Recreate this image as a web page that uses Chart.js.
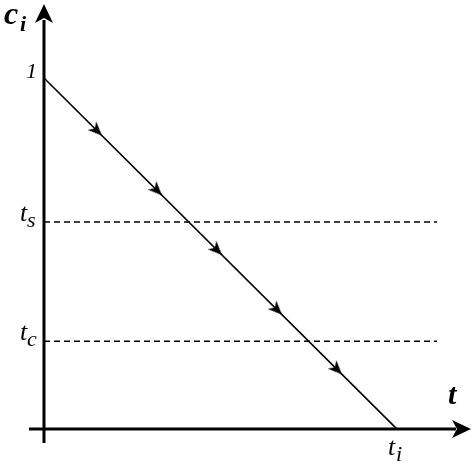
<!DOCTYPE html>
<html>
<head>
<meta charset="utf-8">
<script src="https://cdn.jsdelivr.net/npm/chart.js@4/dist/chart.umd.min.js"></script>
<style>
  html, body { margin: 0; padding: 0; background: #fff; }
  canvas { display: block; }
</style>
</head>
<body>
<canvas id="myChart" width="474" height="467"></canvas>
<script>
// trajectory of c_i over t
const tValues = [0, 1];
const ciValues = [1, 0];
// direction arrows along the line (t positions)
const arrowT = [0.15, 0.32, 0.49, 0.66, 0.83];
// horizontal thresholds
const levelValues = [0.59, 0.25];
const levelBase = ['t', 't'];
const levelSub = ['s', 'c'];
const levelEnd = 1.113;
// axis labels
const yTickValue = 1;
const yTickLabel = '1';
const xTickValue = 1;
const xTickBase = 't';
const xTickSub = 'i';

function makeArrowHead() {
  // stealth arrow pointing right, tip at the right edge
  const c = document.createElement('canvas');
  c.width = 14; c.height = 12;
  const g = c.getContext('2d');
  g.fillStyle = '#000';
  g.beginPath();
  g.moveTo(14, 6);
  g.lineTo(0, 0);
  g.lineTo(4, 6);
  g.lineTo(0, 12);
  g.closePath();
  g.fill();
  return c;
}

function lineAt(t) {
  return ciValues[0] + (ciValues[1] - ciValues[0]) * (t - tValues[0]) / (tValues[1] - tValues[0]);
}

const axesPlugin = {
  id: 'axesPlugin',
  afterDatasetsDraw(chart) {
    const ctx = chart.ctx;
    const xs = chart.scales.x, ys = chart.scales.y;
    const x0 = xs.getPixelForValue(0), y0 = ys.getPixelForValue(0);
    ctx.save();
    ctx.strokeStyle = '#000';
    ctx.fillStyle = '#000';
    ctx.lineWidth = 3;
    // y axis
    ctx.beginPath();
    ctx.moveTo(x0, y0 + 14);
    ctx.lineTo(x0, 20);
    ctx.stroke();
    ctx.beginPath();
    ctx.moveTo(x0, 4);
    ctx.lineTo(x0 - 9, 23);
    ctx.lineTo(x0, 18);
    ctx.lineTo(x0 + 9, 23);
    ctx.closePath();
    ctx.fill();
    // x axis
    ctx.beginPath();
    ctx.moveTo(x0 - 15, y0);
    ctx.lineTo(456, y0);
    ctx.stroke();
    ctx.beginPath();
    ctx.moveTo(471, y0);
    ctx.lineTo(452, y0 - 9);
    ctx.lineTo(457, y0);
    ctx.lineTo(452, y0 + 9);
    ctx.closePath();
    ctx.fill();

    // texts
    ctx.textBaseline = 'alphabetic';
    ctx.textAlign = 'left';
    ctx.font = 'bold italic 32px "Liberation Serif"';
    ctx.fillText('c', 4, 24);
    ctx.font = 'bold italic 22px "Liberation Serif"';
    ctx.fillText('i', 20, 31);
    ctx.font = 'bold italic 30px "Liberation Serif"';
    ctx.fillText('t', 448, 404);

    ctx.font = 'italic 22px "Liberation Serif"';
    ctx.fillText(yTickLabel, 26, ys.getPixelForValue(yTickValue) + 0);
    levelValues.forEach((v, i) => {
      const py = ys.getPixelForValue(v);
      ctx.font = 'italic 26px "Liberation Serif"';
      ctx.fillText(levelBase[i], 20, py - 1);
      ctx.font = 'italic 22px "Liberation Serif"';
      ctx.fillText(levelSub[i], 27, py + 5);
    });
    const px = xs.getPixelForValue(xTickValue);
    ctx.font = 'italic 26px "Liberation Serif"';
    ctx.fillText(xTickBase, px - 9, y0 + 26);
    ctx.font = 'italic 22px "Liberation Serif"';
    ctx.fillText(xTickSub, px - 1, y0 + 32);
    ctx.restore();
  }
};

const datasets = [
  {
    data: tValues.map((t, i) => ({x: t, y: ciValues[i]})),
    showLine: true,
    borderColor: '#000',
    borderWidth: 1.6,
    pointRadius: 0
  },
  {
    data: arrowT.map(t => ({x: t, y: lineAt(t)})),
    showLine: false,
    pointStyle: makeArrowHead(),
    rotation: 45,
    pointRadius: 7
  }
];
levelValues.forEach(v => {
  datasets.push({
    data: [{x: 0, y: v}, {x: levelEnd, y: v}],
    showLine: true,
    borderColor: '#000',
    borderWidth: 1.5,
    borderDash: [6, 4],
    pointRadius: 0
  });
});

new Chart(document.getElementById('myChart'), {
  type: 'scatter',
  data: { datasets: datasets },
  options: {
    responsive: false,
    animation: false,
    layout: { padding: 0, autoPadding: false },
    plugins: { legend: { display: false }, tooltip: { enabled: false } },
    scales: {
      x: { type: 'linear', display: false, min: -0.1246, max: 1.218 },
      y: { type: 'linear', display: false, min: -0.108, max: 1.222 }
    }
  },
  plugins: [axesPlugin]
});
</script>
</body>
</html>
